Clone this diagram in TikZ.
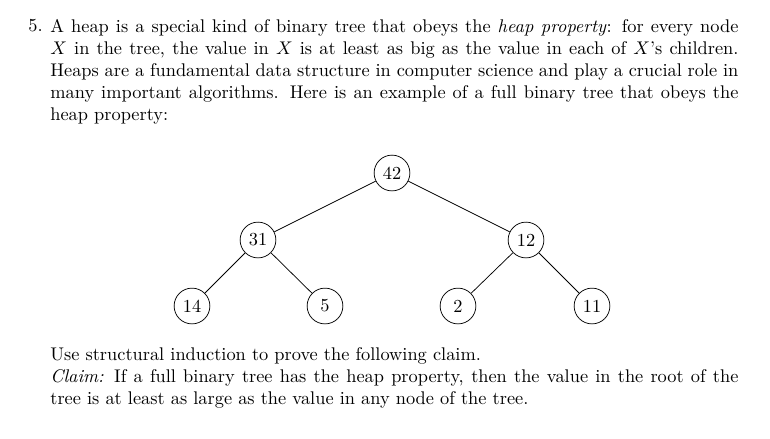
\documentclass[tikz,border=0pt]{standalone}
\begin{document}
\begin{tikzpicture}[x=0.545pt,y=-0.545pt,
  hn/.style={circle,draw,minimum size=19.5pt,inner sep=0pt},
  para/.style={anchor=north west,inner sep=0pt,text width=375pt,align=justify}]
\useasboundingbox (0,0) rectangle (770,438);
\node[anchor=north east,inner sep=0pt] (num) at (43,19) {5.};
\node[para] (p1) at (50,19) {A heap is a special kind of binary tree that obeys the \emph{heap property}: for every node $X$ in the tree, the value in $X$ is at least as big as the value in each of $X$'s children. Heaps are a fundamental data structure in computer science and play a crucial role in many important algorithms. Here is an example of a full binary tree that obeys the heap property:};
\node[hn] (a) at (392,173) {42};
\node[hn] (b) at (258,240) {31};
\node[hn] (c) at (526,240) {12};
\node[hn] (d) at (192,306) {14};
\node[hn] (e) at (325,306) {5};
\node[hn] (f) at (458,306) {2};
\node[hn] (g) at (592,306) {11};
\draw (a) -- (b); \draw (a) -- (c);
\draw (b) -- (d); \draw (b) -- (e);
\draw (c) -- (f); \draw (c) -- (g);
\node[para] (p2) at (50,347) {Use structural induction to prove the following claim.\\
\emph{Claim:} If a full binary tree has the heap property, then the value in the root of the tree is at least as large as the value in any node of the tree.};
\end{tikzpicture}
\end{document}
